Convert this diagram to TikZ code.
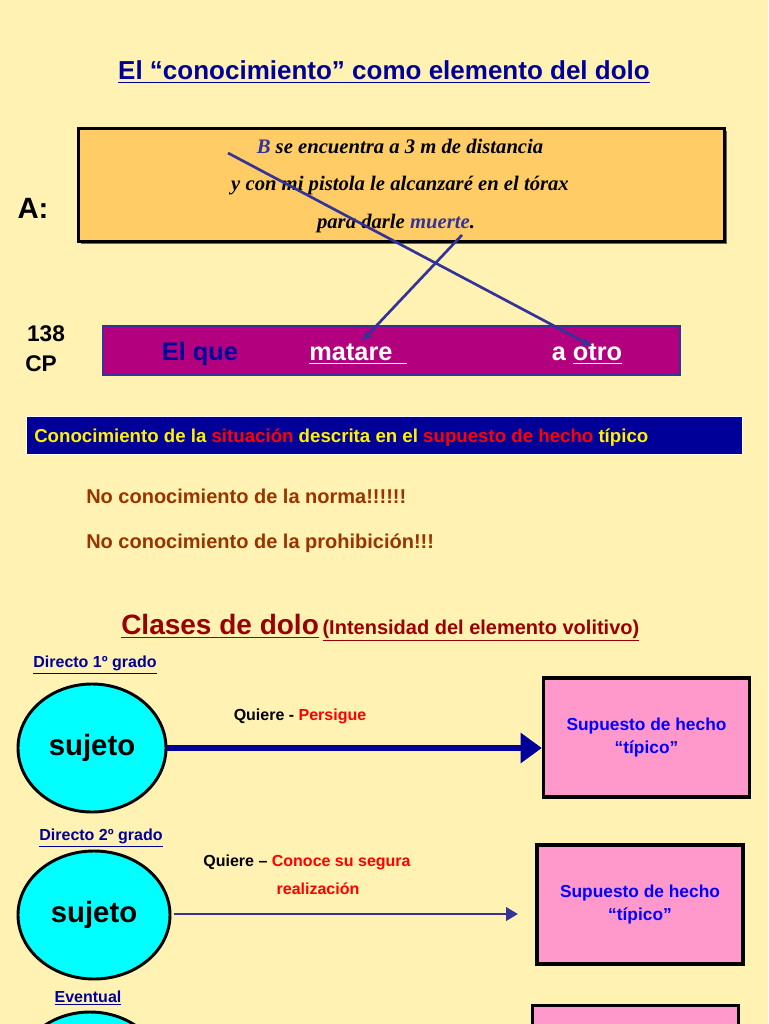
\documentclass[tikz,border=0pt]{standalone}
\usepackage{fontspec}
\setmainfont{Liberation Sans}
\newfontfamily\serifit{Liberation Serif}
\usetikzlibrary{arrows.meta,shapes.geometric}
\definecolor{bg}{HTML}{FFF2B3}
\definecolor{orng}{HTML}{FFCC66}
\definecolor{mag}{HTML}{B3007F}
\definecolor{navy}{HTML}{000099}
\definecolor{lineblue}{HTML}{333399}
\definecolor{brn}{HTML}{993300}
\definecolor{dred}{HTML}{990000}
\definecolor{pinkb}{HTML}{FF99CC}
\definecolor{cyanf}{HTML}{00FFFF}
\definecolor{rd}{HTML}{FF0000}
\definecolor{bl}{HTML}{0000FF}
\tikzset{
  lbl/.style={inner sep=0pt, font=\bfseries},
  circ/.style={ellipse, draw=black, line width=2.2pt, fill=cyanf, minimum width={148*0.75pt}, minimum height={128*0.75pt}, font=\bfseries\fontsize{22}{24}\selectfont},
  pbox/.style={draw=black, line width=2.5pt, fill=pinkb, minimum width={206*0.75pt}, minimum height={119*0.75pt}, align=center, text=bl, font=\bfseries\fontsize{13}{17}\selectfont},
  conn/.style={lineblue, line width=2pt},
  otext/.style={inner sep=0pt, font=\serifit\bfseries\itshape\fontsize{15.5}{18}\selectfont}
}
\begin{document}
\begin{tikzpicture}[x=0.75pt,y=-0.75pt]
\begin{scope}
\clip (0,0) rectangle (768,1024);
\fill[bg] (0,0) rectangle (768,1024);
\node[lbl, font=\bfseries\fontsize{19.5}{22}\selectfont, text=navy] (title) at (384,72) {\underline{El “conocimiento” como elemento del dolo}};
% orange box
\fill[black!60] (81,131) rectangle (727,244);
\node[draw=black, line width=2.5pt, fill=orng, minimum width={646*0.75pt}, minimum height={113*0.75pt}, anchor=north west, inner sep=0pt] (obox) at (77,127) {};
\node[otext] (l1) at (400,146) {\textcolor{lineblue}{B} se encuentra a 3 m de distancia};
\node[otext] (l2) at (400,186) {y con mi pistola le alcanzaré en el tórax};
\node[otext] (l3) at (396,224) {para darle \textcolor{lineblue}{muerte}.};
\node[lbl, font=\bfseries\fontsize{22}{24}\selectfont] (A) at (33,208) {A:};
\node[lbl, font=\bfseries\fontsize{17}{18}\selectfont] (n138) at (46,334) {138};
\node[lbl, font=\bfseries\fontsize{17}{18}\selectfont] (cp) at (41,364) {CP};
% magenta box
\node[draw=lineblue, line width=1.5pt, fill=mag, minimum width={577*0.75pt}, minimum height={49*0.75pt}, anchor=north west, inner sep=0pt] (mbox) at (102,325) {};
\node[lbl, font=\bfseries\fontsize{19}{21}\selectfont, text=navy] (elque) at (200,354) {El que};
\node[lbl, font=\bfseries\fontsize{19}{21}\selectfont, text=white] (matare) at (358,354) {\underline{matare\ \ }};
\node[lbl, font=\bfseries\fontsize{19}{21}\selectfont, text=white] (aotro) at (587,354) {a \underline{otro}};
\coordinate (bpt) at (228,153);
\coordinate (mpt) at (462,235);
\coordinate (otroend) at (592,346);
\coordinate (matend) at (362,341);
\draw[conn, -{Stealth[length=8pt,width=6pt]}] (bpt) -- (otroend);
\draw[conn, -{Stealth[length=8pt,width=6pt]}] (mpt) -- (matend);
% blue bar
\node[fill=navy, draw=white, minimum width={716*0.75pt}, minimum height={38*0.75pt}, anchor=north west, inner sep=0pt] (bar) at (26,416) {};
\node[lbl, anchor=west, font=\bfseries\fontsize{14}{16}\selectfont, text=yellow] (bartext) at (34,438) {Conocimiento de la \textcolor{rd}{situación} descrita en el \textcolor{rd}{supuesto de hecho} típico};
\node[lbl, anchor=west, font=\bfseries\fontsize{15}{17}\selectfont, text=brn] (n1) at (86,496) {No conocimiento de la norma!!!!!!};
\node[lbl, anchor=west, font=\bfseries\fontsize{15}{17}\selectfont, text=brn] (n2) at (86,543) {No conocimiento de la prohibición!!!};
\node[lbl, anchor=west, text=dred] (clases) at (121,628) {\underline{\fontsize{21}{23}\selectfont Clases de dolo} \underline{\fontsize{15}{17}\selectfont(Intensidad del elemento volitivo)}};
% row 1
\node[lbl, font=\bfseries\fontsize{12}{14}\selectfont, text=navy] (d1) at (95,665) {\underline{Directo 1º grado}};
\node[circ] (s1) at (92,748) {sujeto};
\node[pbox] (p1) at (646.5,737.5) {Supuesto de hecho\\“típico”};
\draw[navy, line width=5pt, -{Triangle[length=16pt,width=22pt]}] (s1.east) -- (s1.east -| p1.west);
\node[lbl, font=\bfseries\fontsize{12}{14}\selectfont] (q1) at (300,716) {Quiere - \textcolor{rd}{Persigue}};
% row 2
\node[lbl, font=\bfseries\fontsize{12}{14}\selectfont, text=navy] (d2) at (101,838) {\underline{Directo 2º grado}};
\node[circ, minimum width={152*0.75pt}] (s2) at (94,915) {sujeto};
\node[pbox] (p2) at (640,904.5) {Supuesto de hecho\\“típico”};
\coordinate (a2end) at (518,914);
\coordinate (a2start) at (174,914);
\draw[lineblue, line width=2.2pt, -{Triangle[length=9pt,width=10pt]}] (a2start) -- (a2end);
\node[lbl, font=\bfseries\fontsize{12}{14}\selectfont] (q2) at (307,862) {Quiere – \textcolor{rd}{Conoce su segura}};
\node[lbl, font=\bfseries\fontsize{12}{14}\selectfont, text=rd] (q2b) at (318,889) {realización};
% row 3
\node[lbl, font=\bfseries\fontsize{12}{14}\selectfont, text=navy] (d3) at (88,998) {\underline{Eventual}};
\node[circ] (s3) at (90,1076) {};
\node[pbox, anchor=north west] (p3) at (531,1004) {};
\end{scope}
\end{tikzpicture}
\end{document}
